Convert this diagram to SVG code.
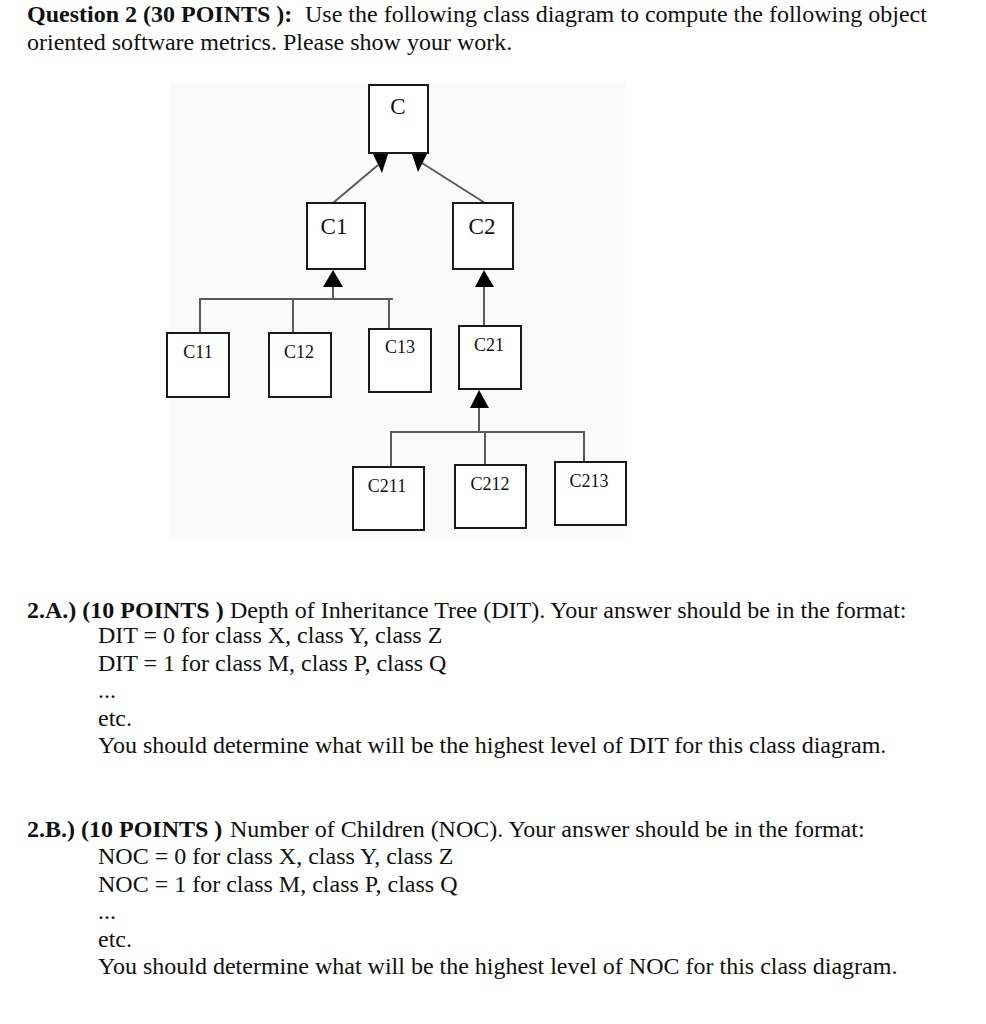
<svg xmlns="http://www.w3.org/2000/svg" width="986" height="1024" viewBox="0 0 986 1024">
<style>
  text { font-family: "Liberation Serif", "Times New Roman", serif; fill: #111; }
  .t { font-size: 24px; }
  .b { font-weight: bold; }
  .box { fill: #ffffff; stroke: #1a1a1a; stroke-width: 2; }
  .lbl { font-size: 18px; text-anchor: middle; }
  .lblL { font-size: 23px; text-anchor: middle; }
  .ln { fill: none; stroke: #5a5a5a; stroke-width: 2; }
  .ah { fill: #000; stroke: none; }
</style>
<rect width="986" height="1024" fill="#ffffff"/>

<g id="question-text">
  <text class="t" y="22"><tspan class="b" x="27">Question 2 (30 POINTS ):</tspan><tspan x="305">Use the following class diagram to compute the following object</tspan></text>
  <text class="t" x="27" y="50">oriented software metrics. Please show your work.</text>
</g>

<rect x="170" y="83" width="455" height="455" fill="#fafafa"/>

<g id="connectors">
  <line class="ln" x1="333" y1="203" x2="378" y2="165"/>
  <line class="ln" x1="422" y1="163" x2="485" y2="203"/>
  <polygon class="ah" points="373,154 388,154 382,173"/>
  <polygon class="ah" points="412,154 427,154 418,172"/>

  <polygon class="ah" points="333,270 323,287 343,287"/>
  <line class="ln" x1="333" y1="287" x2="333" y2="299"/>
  <line class="ln" x1="199" y1="299" x2="393" y2="299"/>
  <line class="ln" x1="200" y1="299" x2="200" y2="333"/>
  <line class="ln" x1="293" y1="299" x2="293" y2="333"/>
  <line class="ln" x1="389" y1="299" x2="389" y2="329"/>

  <polygon class="ah" points="484,270 475,287 494,287"/>
  <line class="ln" x1="484" y1="287" x2="484" y2="326"/>

  <polygon class="ah" points="479,390 470,408 489,408"/>
  <line class="ln" x1="479" y1="408" x2="479" y2="432"/>
  <line class="ln" x1="390" y1="432" x2="585" y2="432"/>
  <line class="ln" x1="391" y1="432" x2="391" y2="467"/>
  <line class="ln" x1="485" y1="432" x2="485" y2="465"/>
  <line class="ln" x1="584" y1="432" x2="584" y2="462"/>
</g>

<g id="C"><rect class="box" x="369" y="85" width="59" height="68"/><text class="lblL" x="398" y="114">C</text></g>
<g id="C1"><rect class="box" x="307" y="203" width="58" height="66"/><text class="lblL" x="334" y="234">C1</text></g>
<g id="C2"><rect class="box" x="453" y="203" width="60" height="66"/><text class="lblL" x="482" y="234">C2</text></g>
<g id="C11"><rect class="box" x="167" y="333" width="62" height="64"/><text class="lbl" x="198" y="358">C11</text></g>
<g id="C12"><rect class="box" x="269" y="333" width="62" height="64"/><text class="lbl" x="299" y="358">C12</text></g>
<g id="C13"><rect class="box" x="369" y="329" width="62" height="63"/><text class="lbl" x="400" y="353">C13</text></g>
<g id="C21"><rect class="box" x="459" y="326" width="62" height="63"/><text class="lbl" x="489" y="351">C21</text></g>
<g id="C211"><rect class="box" x="353" y="467" width="71" height="63"/><text class="lbl" x="387" y="492">C211</text></g>
<g id="C212"><rect class="box" x="455" y="465" width="71" height="63"/><text class="lbl" x="490" y="490">C212</text></g>
<g id="C213"><rect class="box" x="555" y="462" width="71" height="63"/><text class="lbl" x="589" y="487">C213</text></g>

<g id="part-a">
  <text class="t" y="618"><tspan class="b" x="27">2.A.) (10 POINTS )</tspan><tspan x="230">Depth of Inheritance Tree (DIT). Your answer should be in the format:</tspan></text>
  <text class="t" x="98" y="643">DIT = 0 for class X, class Y, class Z</text>
  <text class="t" x="98" y="671">DIT = 1 for class M, class P, class Q</text>
  <text class="t" x="98" y="698">...</text>
  <text class="t" x="98" y="726">etc.</text>
  <text class="t" x="98" y="753">You should determine what will be the highest level of DIT for this class diagram.</text>
</g>

<g id="part-b">
  <text class="t" y="837"><tspan class="b" x="27">2.B.) (10 POINTS )</tspan><tspan x="230">Number of Children (NOC). Your answer should be in the format:</tspan></text>
  <text class="t" x="98" y="864">NOC = 0 for class X, class Y, class Z</text>
  <text class="t" x="98" y="892">NOC = 1 for class M, class P, class Q</text>
  <text class="t" x="98" y="919">...</text>
  <text class="t" x="98" y="947">etc.</text>
  <text class="t" x="98" y="974">You should determine what will be the highest level of NOC for this class diagram.</text>
</g>
</svg>
